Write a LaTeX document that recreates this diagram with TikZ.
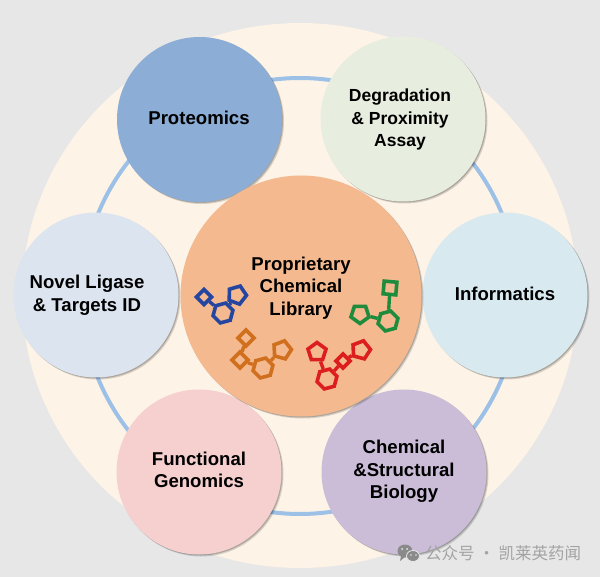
\documentclass[tikz,border=0pt]{standalone}
\usepackage{fontspec}
\setmainfont{Liberation Sans}
\newfontfamily\cjkfont{Noto Sans CJK SC}
\usetikzlibrary{shapes.geometric,shadows}
\definecolor{pagegray}{HTML}{E7E7E7}
\definecolor{creamfill}{HTML}{FDF3E7}
\definecolor{ringblue}{HTML}{9DC0E6}
\definecolor{corefill}{HTML}{F4B98F}
\definecolor{protfill}{HTML}{8BADD6}
\definecolor{degrfill}{HTML}{E8EEDF}
\definecolor{inffill}{HTML}{D8EAF0}
\definecolor{chemfill}{HTML}{CBBDD8}
\definecolor{funcfill}{HTML}{F6CFCF}
\definecolor{ligfill}{HTML}{DCE4F0}
\definecolor{molblue}{HTML}{2446A0}
\definecolor{molgreen}{HTML}{1E8C3C}
\definecolor{molorange}{HTML}{D0701E}
\definecolor{molred}{HTML}{DC1E1E}
\definecolor{markgray}{HTML}{A3A3A3}
\begin{document}
\begin{tikzpicture}[x=1pt, y=-1pt,
					topic/.style = {circle, minimum size=165pt, inner sep=0pt,
						drop shadow={shadow xshift=1pt, shadow yshift=-1pt, opacity=.2, fill=black},
						drop shadow={shadow xshift=2pt, shadow yshift=-2pt, opacity=.15, fill=black}},
					label/.style = {font=\fontsize{18.6}{22.6}\selectfont\bfseries, align=center, inner sep=0pt},
					penta/.style = {regular polygon, regular polygon sides=5, minimum size=19pt, inner sep=0pt, draw, line width=3.6pt},
					hexa/.style = {regular polygon, regular polygon sides=6, minimum size=20.5pt, inner sep=0pt, draw, line width=3.6pt, shape border rotate=15},
					squ/.style = {regular polygon, regular polygon sides=4, minimum size=16pt, inner sep=0pt, draw, line width=3.6pt, shape border rotate=45},
					bond/.style = {line width=3.4pt}
				]

				\fill[pagegray] (0,0) rectangle (600,577);
				\useasboundingbox (0,0) rectangle (600,577);

				\node[ellipse, fill=creamfill, minimum width=556pt, minimum height=545pt, inner sep=0pt] (back) at (300,295.5) {};
				\node[circle, draw=ringblue, line width=4pt, minimum size=436pt, inner sep=0pt] (ring) at (300,296) {};

				\node[topic, fill=protfill] (prot) at (199.5,119.5) {};
				\node[topic, fill=degrfill] (degr) at (403,119) {};
				\node[topic, fill=inffill] (inf) at (505,295) {};
				\node[topic, fill=chemfill] (chem) at (404,472) {};
				\node[topic, fill=funcfill] (func) at (199,472) {};
				\node[topic, fill=ligfill] (lig) at (96,295) {};
				\node[topic, fill=corefill, minimum size=241pt] (core) at (301,296) {};

				\node[label] (protlabel) at (199,117.5) {Proteomics};
				\node[label, font=\fontsize{17.5}{22.8}\selectfont\bfseries] (degrlabel) at (400,119.5) {Degradation\\\& Proximity\\Assay};
				\node[label] (inflabel) at (505,294) {Informatics};
				\node[label] (chemlabel) at (404,471.5) {Chemical\\\&Structural\\Biology};
				\node[label] (funclabel) at (199,470) {Functional\\Genomics};
				\node[label] (liglabel) at (87,295) {Novel Ligase\\\& Targets ID};
				\node[label] (corelabel) at (301,288) {Proprietary\\Chemical\\Library};

				% blue molecule
				\begin{scope}[color=molblue]
					\node[squ, minimum size=15pt] (b1) at (204,297) {};
					\node[hexa] (b2) at (223,313) {};
					\node[penta, shape border rotate=-20] (b3) at (237,295) {};
					\draw[bond] (b1) -- (b2);
					\draw[bond] (b3) -- (b2);
				\end{scope}
				% green molecule
				\begin{scope}[color=molgreen]
					\node[squ, minimum size=18pt, shape border rotate=-5] (g1) at (390,288) {};
					\node[hexa] (g2) at (388,321) {};
					\node[penta, shape border rotate=180] (g3) at (360,314) {};
					\draw[bond] (g1) -- (g2);
					\draw[bond] (g3) -- (g2);
				\end{scope}
				% orange molecule
				\begin{scope}[color=molorange]
					\node[squ] (o1) at (246,338) {};
					\node[squ] (o2) at (240,360) {};
					\node[hexa] (o3) at (263,368) {};
					\node[penta, shape border rotate=-15] (o4) at (282,350) {};
					\draw[bond] (o1) -- (o2);
					\draw[bond] (o2) -- (o3);
					\draw[bond] (o3) -- (o4);
				\end{scope}
				% red molecule
				\begin{scope}[color=molred]
					\node[penta] (r1) at (317,352) {};
					\node[squ, minimum size=14pt] (r2) at (343,361) {};
					\node[penta, shape border rotate=-15] (r3) at (361,350) {};
					\node[hexa] (r4) at (327,379) {};
					\draw[bond] (r1) -- (r4);
					\draw[bond] (r2) -- (r4);
					\draw[bond] (r2) -- (r3);
				\end{scope}

				% mark at the bottom
				\fill[markgray!85!black] (405,551) ellipse (7.5pt and 6.5pt);
				\fill[markgray!85!black] (401,556) -- (400,561) -- (405,557) -- cycle;
				\fill[markgray!85!black, draw=pagegray, line width=.8pt] (413,556) ellipse (6.5pt and 5.5pt);
				\foreach \x in {402,407} \fill[pagegray] (\x,549) circle (1pt);
				\foreach \x in {411,416} \fill[pagegray] (\x,555) circle (.8pt);
				\node[font=\cjkfont\fontsize{16.5}{17}\selectfont, text=markgray, inner sep=0pt, anchor=west] (mark) at (425,553) {公众号 · 凯莱英药闻};
			\end{tikzpicture}
\end{document}
